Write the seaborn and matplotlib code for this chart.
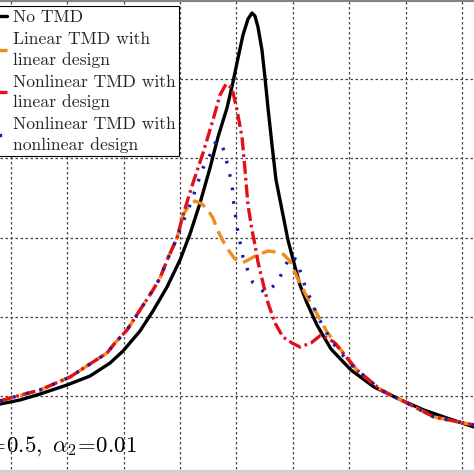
import matplotlib
matplotlib.use("Agg")
import matplotlib.pyplot as plt
import seaborn as sns
import numpy as np
import pandas as pd

# ---------------- data (grid units) ----------------
x_none = [-0.195, 0.160, 0.514, 0.993, 1.401, 1.756, 1.987, 2.288, 2.519, 2.767,
          2.998, 3.175, 3.353, 3.530, 3.672, 3.831, 3.938, 4.027, 4.115, 4.204,
          4.275, 4.328, 4.381, 4.452, 4.506, 4.559, 4.630, 4.701, 4.772, 4.913,
          5.020, 5.126, 5.251, 5.428, 5.676, 6.031, 6.439, 6.918, 7.326, 7.734, 8.213]
y_none = [0.899, 0.950, 1.025, 1.139, 1.252, 1.416, 1.568, 1.820, 2.073, 2.375,
          2.716, 3.044, 3.435, 3.877, 4.268, 4.634, 4.962, 5.265, 5.555, 5.757,
          5.833, 5.795, 5.656, 5.366, 5.013, 4.634, 4.167, 3.726, 3.474, 2.968,
          2.678, 2.401, 2.173, 1.896, 1.593, 1.328, 1.114, 0.950, 0.823, 0.722, 0.609]

# shared tails of the three TMD curves
left_x = [-0.195, -0.018, 0.514, 1.047, 1.455, 1.703, 1.845, 2.058, 2.288, 2.519,
          2.643, 2.785, 2.945]
left_y = [0.937, 0.975, 1.076, 1.240, 1.429, 1.543, 1.669, 1.833, 2.085, 2.338,
          2.489, 2.741, 2.994]
right_x = [6.137, 6.563, 7.024, 7.503, 8.213]
right_y = [1.328, 1.076, 0.912, 0.735, 0.634]

# Linear TMD with linear design (middle part)
lin_x = [3.051, 3.140, 3.264, 3.388, 3.494, 3.583, 3.654, 3.761, 3.867, 3.973,
         4.098, 4.240, 4.364, 4.559, 4.808, 4.949, 5.073, 5.251, 5.410, 5.605,
         5.854]
lin_y = [3.284, 3.385, 3.461, 3.423, 3.347, 3.246, 3.107, 2.956, 2.830, 2.729,
         2.678, 2.729, 2.779, 2.830, 2.805, 2.704, 2.502, 2.249, 2.060, 1.808,
         1.581]

# Nonlinear TMD with linear design (middle part)
nl_lin_x = [3.051, 3.228, 3.406, 3.583, 3.707, 3.814, 3.920, 4.009, 4.098, 4.151,
            4.204, 4.275, 4.328, 4.381, 4.470, 4.559, 4.683, 4.825, 4.985, 5.126,
            5.321, 5.499, 5.729, 5.960]
nl_lin_y = [3.284, 3.688, 4.066, 4.483, 4.798, 4.937, 4.887, 4.609, 4.268, 3.852,
            3.410, 3.095, 2.905, 2.691, 2.426, 2.173, 1.921, 1.744, 1.669, 1.618,
            1.669, 1.770, 1.681, 1.480]

# Nonlinear TMD with nonlinear design (middle part)
nl_nl_x = [3.051, 3.140, 3.228, 3.317, 3.406, 3.530, 3.619, 3.707, 3.796, 3.849,
           3.920, 3.938, 3.973, 4.009, 4.062, 4.115, 4.204, 4.293, 4.506, 4.718,
           4.843, 4.949, 5.073, 5.144, 5.233, 5.339, 5.428, 5.552, 5.694, 5.854,
           6.031]
nl_nl_y = [3.196, 3.347, 3.511, 3.700, 3.877, 4.041, 4.192, 4.218, 4.066, 3.877,
           3.688, 3.499, 3.322, 3.133, 2.943, 2.754, 2.577, 2.426, 2.300, 2.426,
           2.603, 2.767, 2.716, 2.539, 2.350, 2.186, 2.022, 1.858, 1.681, 1.543,
           1.391]

labels = ["No TMD", "Linear TMD with\nlinear design",
          "Nonlinear TMD with\nlinear design", "Nonlinear TMD with\nnonlinear design"]
annotation = r"$\alpha_1\!=\!0.5,\ \alpha_2\!=\!0.01$"

x_ticks = list(range(0, 9))
y_ticks = list(range(1, 6))

# ---------------- style ----------------
sns.set_theme(style="white")
plt.rcParams["font.family"] = "serif"
plt.rcParams["font.serif"] = ["cmr10", "DejaVu Serif"]
plt.rcParams["mathtext.fontset"] = "cm"
plt.rcParams["axes.formatter.use_mathtext"] = True

fig = plt.figure(figsize=(4.74, 4.74), dpi=100)
ax = fig.add_axes([0, 0, 1, 1])

def series(mx, my):
    return pd.DataFrame({"x": left_x + mx + right_x, "y": left_y + my + right_y})

d_none = pd.DataFrame({"x": x_none, "y": y_none})
d_lin = series(lin_x, lin_y)
d_nl_lin = series(nl_lin_x, nl_lin_y)
d_nl_nl = series(nl_nl_x, nl_nl_y)

LW = 2.4
sns.lineplot(data=d_none, x="x", y="y", ax=ax, sort=False, estimator=None,
             color="black", lw=LW, label=labels[0], zorder=3)
sns.lineplot(data=d_lin, x="x", y="y", ax=ax, sort=False, estimator=None,
             color="#f08c1e", lw=LW, linestyle=(0, (4.2, 2.1)), label=labels[1], zorder=4)
sns.lineplot(data=d_nl_lin, x="x", y="y", ax=ax, sort=False, estimator=None,
             color="#e3101c", lw=LW, linestyle=(0, (3.9, 1.2, 0.8, 1.2)), label=labels[2], zorder=5)
sns.lineplot(data=d_nl_nl, x="x", y="y", ax=ax, sort=False, estimator=None,
             color="#1c1ca8", lw=LW, linestyle=(0, (0.8, 3.3)), label=labels[3], zorder=6)

ax.set_xlim(-0.195, 8.213)
ax.set_ylim(0.016, 5.997)
ax.set_xticks(x_ticks)
ax.set_yticks(y_ticks)
ax.set_xticklabels([])
ax.set_yticklabels([])
ax.tick_params(length=0)
ax.set_xlabel("")
ax.set_ylabel("")
ax.grid(True, color="#444444", lw=0.9, linestyle=(0, (2, 2)))

for s in ["left", "right"]:
    ax.spines[s].set_visible(False)
ax.spines["top"].set_color("#858585")
ax.spines["top"].set_linewidth(3)
ax.spines["bottom"].set_color("#d2d2d2")
ax.spines["bottom"].set_linewidth(6)

handles = ax.get_lines()[:4]
leg = ax.legend(handles, labels, loc="upper right",
                bbox_to_anchor=(179 / 474, 1 - 6 / 474), bbox_transform=fig.transFigure,
                borderaxespad=0, fontsize=12.7, frameon=True, fancybox=False,
                framealpha=1, edgecolor="black", borderpad=0.2, labelspacing=0.38,
                handlelength=2.0, handletextpad=0.3)
leg.get_frame().set_linewidth(0.8)
for t in leg.get_texts():
    t.set_linespacing(1.38)

fig.text(137 / 474, 1 - 452 / 474, annotation, ha="right", va="baseline",
         fontsize=16.5, color="black")

fig.savefig("out.png", dpi=100)
